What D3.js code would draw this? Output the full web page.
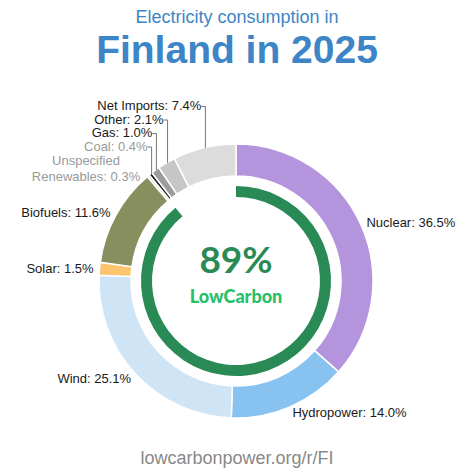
<!DOCTYPE html>
<html><head><meta charset="utf-8">
<script src="https://cdn.jsdelivr.net/npm/d3@7"></script>
<style>body{margin:0;background:#fff}svg{display:block}</style>
</head><body><svg id="c" width="474" height="474"></svg>
<script>
// ---- data ----
const categories = ["Nuclear","Hydropower","Wind","Solar","Biofuels","Unspecified Renewables","Coal","Gas","Other","Net Imports"];
const shares = [36.5,14.0,25.1,1.5,11.6,0.3,0.4,1.0,2.1,7.4];
const sliceColors = ["#b394dd","#88c2f0","#cfe5f6","#fdc46e","#878f5f","#cde8c9","#1c1c1c","#9c9c9c","#c6c6c6","#dcdcdc"];
const lowCarbonShare = 89;
const titleSmall = "Electricity consumption in";
const titleBig = "Finland in 2025";
const centerSub = "LowCarbon";
const footerText = "lowcarbonpower.org/r/FI";
const stackedLabels = ["Net Imports","Other","Gas","Coal"];
const wrappedLabel = "Unspecified Renewables";

// ---- drawing ----
const svg = d3.select("#c");
const cx = 236, cy = 281;
const rOut = 137, rIn = 105, gOut = 95, gIn = 84;
const data = categories.map((c,i)=>({name:c, v:shares[i], color:sliceColors[i]}));
const fmt = d => d.name + ": " + d.v.toFixed(1) + "%";
const labelFont = "'Liberation Sans', Arial, sans-serif";

svg.append("text").attr("x",237).attr("y",23).attr("text-anchor","middle")
  .attr("font-family",labelFont).attr("font-size",18).attr("fill","#3d85c6").text(titleSmall);
svg.append("text").attr("x",237).attr("y",63).attr("text-anchor","middle")
  .attr("font-family",labelFont).attr("font-weight","bold").attr("font-size",39).attr("fill","#3d85c6").text(titleBig);

const g = svg.append("g").attr("transform",`translate(${cx},${cy})`);
const pie = d3.pie().sort(null).value(d=>d.v).startAngle(0).endAngle(2*Math.PI);
const arcs = pie(data);
const arc = d3.arc().innerRadius(rIn).outerRadius(rOut);

g.selectAll("path.slice").data(arcs).enter().append("path")
  .attr("class","slice").attr("d",arc).attr("fill",d=>d.data.color)
  .attr("stroke","#fff").attr("stroke-width",1.5);

// inner low-carbon ring
const angle = d3.scaleLinear().domain([0,100]).range([0,2*Math.PI]);
g.append("path").attr("d", d3.arc().innerRadius(gIn).outerRadius(gOut).startAngle(0).endAngle(angle(lowCarbonShare))())
  .attr("fill","#2a8a55");

g.append("text").attr("x",0).attr("y",-8).attr("text-anchor","middle")
  .attr("font-family","Lato, sans-serif").attr("font-weight",700).attr("font-size",37)
  .attr("fill","#2a8a55").text(lowCarbonShare + "%");
g.append("text").attr("x",0).attr("y",22).attr("text-anchor","middle")
  .attr("font-family","Lato, sans-serif").attr("font-weight",900).attr("font-size",18)
  .attr("fill","#25c06a").text(centerSub);

const mid = d => (d.startAngle + d.endAngle)/2;
const textColor = d => d.data.v < 0.5 ? "#999" : "#1a1a1a";

// direct labels for the large slices
const direct = arcs.filter(d => !stackedLabels.includes(d.data.name) && d.data.name !== wrappedLabel);
const rl = rOut + 6;
g.selectAll("text.lab").data(direct).enter().append("text").attr("class","lab")
  .attr("x",d=>Math.sin(mid(d))*rl).attr("y",d=>-Math.cos(mid(d))*rl).attr("dy","0.35em")
  .attr("text-anchor",d=>mid(d) < Math.PI ? "start" : "end")
  .attr("font-family",labelFont).attr("font-size",13).attr("fill",textColor).text(d=>fmt(d.data));

// stacked labels with leader lines
const stackTop = 105.5 - cy, stackStep = 13.5;
stackedLabels.forEach((name,i) => {
  const d = arcs.find(a => a.data.name === name);
  const px = Math.sin(mid(d))*rOut + 1, py = -Math.cos(mid(d))*rOut;
  const ly = stackTop + i*stackStep;
  g.append("path").attr("d",`M${px-4},${ly+1}H${px}V${py}`)
    .attr("fill","none").attr("stroke","#777").attr("stroke-width",1);
  g.append("text").attr("x",px-4).attr("y",ly).attr("dy","0.35em").attr("text-anchor","end")
    .attr("font-family",labelFont).attr("font-size",13).attr("fill",textColor(d)).text(fmt(d.data));
});

// wrapped label
{
  const d = arcs.find(a => a.data.name === wrappedLabel);
  const words = fmt(d.data).split(" ");
  const lines = [words[0], words.slice(1).join(" ")];
  const t = g.append("text").attr("text-anchor","middle")
    .attr("font-family",labelFont).attr("font-size",13).attr("fill",textColor(d));
  lines.forEach((l,i)=> t.append("tspan").attr("x",86-cx).attr("y",160-cy+i*16).attr("dy","0.35em").text(l));
}

svg.append("text").attr("x",237).attr("y",464).attr("text-anchor","middle")
  .attr("font-family",labelFont).attr("font-size",18).attr("fill","#888").text(footerText);
</script></body></html>
